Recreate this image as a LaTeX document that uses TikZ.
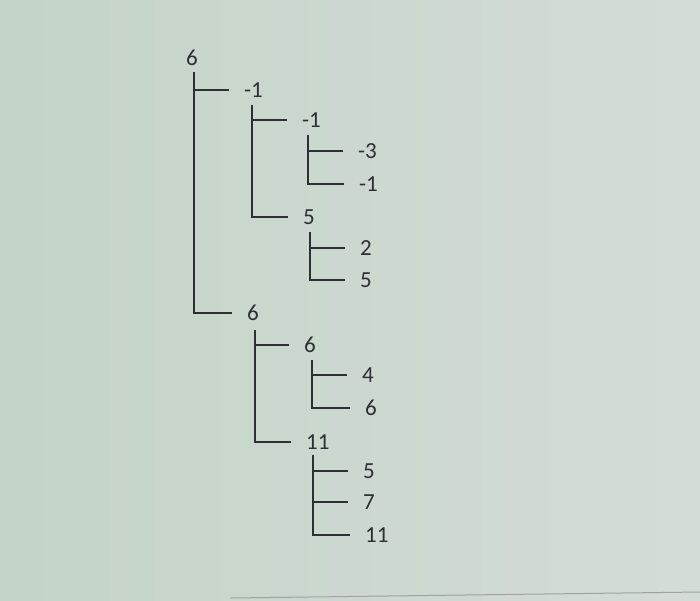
\documentclass[tikz,border=0pt]{standalone}
\usepackage{fontspec}
\setmainfont{Carlito}
\usepackage{tikz}
\usetikzlibrary{positioning,calc}
\definecolor{ink}{RGB}{44,48,50}
\definecolor{bgleft}{RGB}{196,212,200}
\definecolor{bgright}{RGB}{212,220,214}

\begin{document}
\begin{tikzpicture}[x=1pt, y=-1pt,
    num/.style={anchor=west, inner xsep=15pt, inner ysep=0pt, text=ink,
        font=\fontsize{23}{27}\selectfont},
    branch/.style={draw=ink, line width=1.7pt}]
    % Screen
    \shade[left color=bgleft, right color=bgright] (0,0) rectangle (700,600);
    \useasboundingbox (0,0) rectangle (700,600);
    \draw[ink!45, line width=1pt] (230,598) -- (700,592);

    % Root
    \node[num] (r) at (171, 58) {6};

    % Level one
    \node[num] (a) at (229, 90) {-1};
    \node[num] (b) at (232, 313) {6};

    % Level two
    \node[num] (aa) at (287, 120) {-1};
    \node[num] (ab) at (288, 217) {5};
    \node[num] (ba) at (289, 345) {6};
    \node[num] (bb) at (291, 442) {11};

    % Leaves
    \node[num] (aaa) at (343, 151) {-3};
    \node[num] (aab) at (344, 184) {-1};
    \node[num] (aba) at (345, 248) {2};
    \node[num] (abb) at (345, 280) {5};
    \node[num] (baa) at (347, 375) {4};
    \node[num] (bab) at (350, 408) {6};
    \node[num] (bba) at (348, 471) {5};
    \node[num] (bbb) at (348, 502) {7};
    \node[num] (bbc) at (350, 535) {11};

    % Bracket tops
    \coordinate (tr) at (194, 72);
    \coordinate (ta) at (252, 105);
    \coordinate (tb) at (255, 330);
    \coordinate (taa) at (308, 135);
    \coordinate (tab) at (310, 232);
    \coordinate (tba) at (312, 360);
    \coordinate (tbb) at (313, 455);

    % Brackets
    \draw[branch] (tr) |- (b.west);
    \draw[branch] (tr |- a.west) -- (a.west);
    \draw[branch] (ta) |- (ab.west);
    \draw[branch] (ta |- aa.west) -- (aa.west);
    \draw[branch] (tb) |- (bb.west);
    \draw[branch] (tb |- ba.west) -- (ba.west);
    \draw[branch] (taa) |- (aab.west);
    \draw[branch] (taa |- aaa.west) -- (aaa.west);
    \draw[branch] (tab) |- (abb.west);
    \draw[branch] (tab |- aba.west) -- (aba.west);
    \draw[branch] (tba) |- (bab.west);
    \draw[branch] (tba |- baa.west) -- (baa.west);
    \draw[branch] (tbb) |- (bbc.west);
    \foreach \n in {bba,bbb}
        \draw[branch] (tbb |- \n.west) -- (\n.west);
\end{tikzpicture}
\end{document}
